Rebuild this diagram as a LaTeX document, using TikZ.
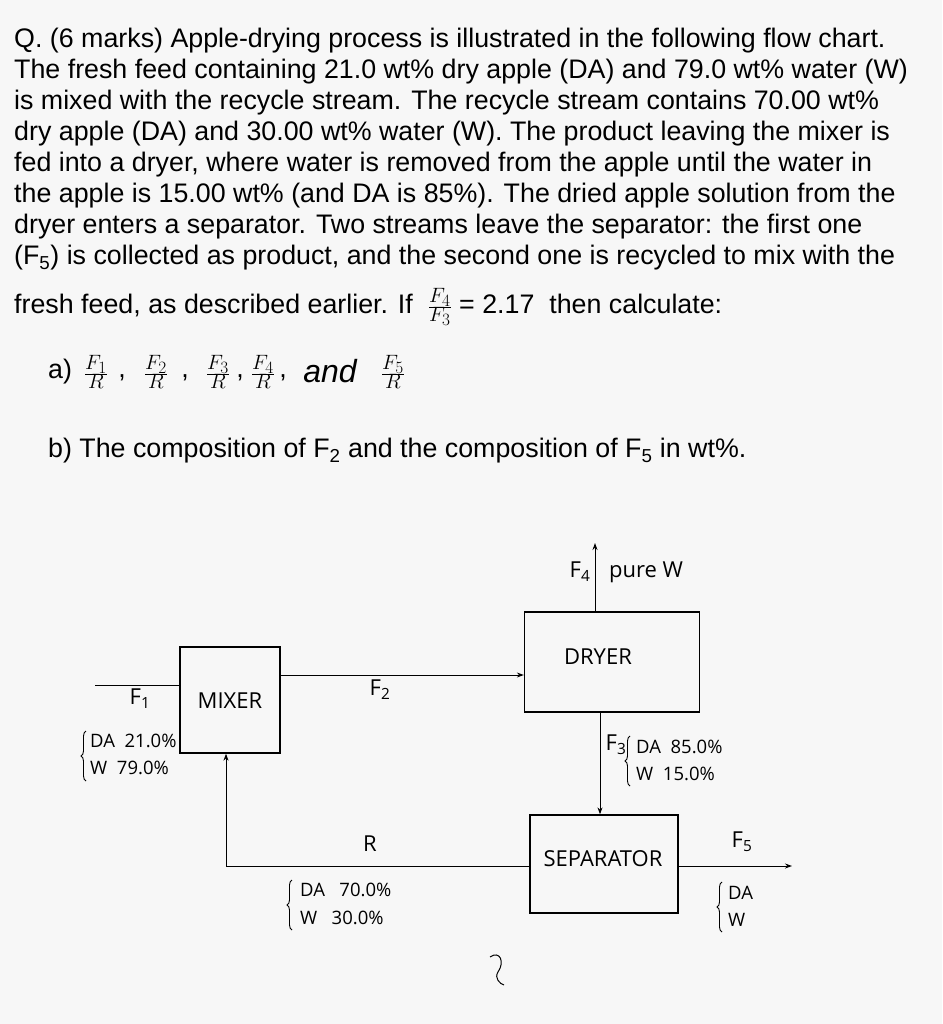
\documentclass[tikz,border=0pt]{standalone}
\usepackage{fontspec}
\setmainfont{Liberation Sans}
\newfontfamily\dfont{Open Sans}
\usetikzlibrary{arrows.meta,decorations.pathreplacing}
\newcommand\myfr[2]{{\fontsize{32}{32}\selectfont$\frac{#1}{#2}$}}
\begin{document}
\begin{tikzpicture}[x=1pt,y=-1pt,
  txt/.style={anchor=west,inner sep=0pt,font=\fontsize{26.8}{30}\selectfont},
  fr/.style={inner sep=0pt,font=\fontsize{26.8}{30}\selectfont},
  lab/.style={inner sep=0pt,font=\dfont\fontsize{22}{26}\selectfont},
  sm/.style={inner sep=0pt,font=\dfont\fontsize{18.5}{21}\selectfont,anchor=west},
  box/.style={draw,line width=1.3pt,inner sep=0pt},
  ln/.style={line width=1pt},
  br/.style={decorate,decoration={brace,amplitude=5pt},line width=0.9pt},
  arr/.style={ln,-{Stealth[length=7pt,width=5pt]}}]
\fill[white!94!gray] (0,0) rectangle (942,1024);
\useasboundingbox (0,0) rectangle (942,1024);
\node[txt] (l1) at (14,41) {Q. (6 marks) Apple-drying process is illustrated in the following flow chart.};
\node[txt] (l2) at (14,72) {The fresh feed containing 21.0 wt\% dry apple (DA) and 79.0 wt\% water (W)};
\node[txt] (l3) at (14,103) {is mixed with the recycle stream. The recycle stream contains 70.00 wt\%};
\node[txt] (l4) at (14,134) {dry apple (DA) and 30.00 wt\% water (W). The product leaving the mixer is};
\node[txt] (l5) at (14,165) {fed into a dryer, where water is removed from the apple until the water in};
\node[txt] (l6) at (14,196) {the apple is 15.00 wt\% (and DA is 85\%). The dried apple solution from the};
\node[txt] (l7) at (14,227) {dryer enters a separator. Two streams leave the separator: the first one};
\node[txt] (l8) at (14,258) {(F\textsubscript{5}) is collected as product, and the second one is recycled to mix with the};
\node[txt] (l9) at (14,307) {fresh feed, as described earlier. If\ \ \myfr{F_4}{F_3} = 2.17\ \ then calculate:};
\node[txt] (la) at (48,372) {a)};
\node[fr] (fa1) at (96,372) {\myfr{F_1}{R}};
\node[fr] (ca1) at (122,378) {,};
\node[fr] (fa2) at (156,372) {\myfr{F_2}{R}};
\node[fr] (ca2) at (185,378) {,};
\node[fr] (fa3) at (218,372) {\myfr{F_3}{R}};
\node[fr] (ca3) at (240,378) {,};
\node[fr] (fa4) at (263,372) {\myfr{F_4}{R}};
\node[fr] (ca4) at (283,378) {,};
\node[fr] (and) at (330,371) {\fontsize{32}{32}\selectfont$\mathit{and}$};
\node[fr] (fa5) at (393,372) {\myfr{F_5}{R}};
\node[txt] (lb) at (48,451) {b) The composition of F\textsubscript{2} and the composition of F\textsubscript{5} in wt\%.};

\node[box,minimum width=100,minimum height=106] (mix) at (230,700) {};
\node[lab] at (230,701) {MIXER};
\node[box,minimum width=175,minimum height=100] (dry) at (612,662) {};
\node[lab] at (598,657) {DRYER};
\node[box,minimum width=148,minimum height=98] (sep) at (604,864) {};
\node[lab] at (603,859) {SEPARATOR};

\coordinate (f1s) at (95,685);
\draw[ln] (f1s) -- (f1s -| mix.west);
\node[lab] at (140,699) {F\textsubscript{1}};
\draw[br] (86,781) -- (86,731);
\node[sm] at (90,741) {DA\ \ 21.0\%};
\node[sm] at (90,768) {W\ \ 79.0\%};

\draw[arr] (mix.east |- 0,675) -- (dry.west |- 0,675);
\node[lab] at (380,690) {F\textsubscript{2}};

\coordinate (f4e) at (595,543);
\draw[arr] (dry.north -| f4e) -- (f4e);
\node[lab] at (580,572) {F\textsubscript{4}};
\node[lab] at (646,572) {pure W};

\draw[arr] (dry.south -| 600,0) -- (sep.north -| 600,0);
\node[lab] at (616,745) {F\textsubscript{3}};
\draw[br] (630,786) -- (630,736);
\node[sm] at (636,747) {DA\ \ 85.0\%};
\node[sm] at (636,774) {W\ \ 15.0\%};

\coordinate (f5e) at (792,866);
\draw[arr] (sep.east |- f5e) -- (f5e);
\node[lab] at (742,842) {F\textsubscript{5}};
\draw[br] (722,932) -- (722,882);
\node[sm] at (728,893) {DA};
\node[sm] at (728,920) {W};

\coordinate (rc) at (226,866);
\draw[arr] (sep.west |- rc) -- (rc) -- (rc |- mix.south);
\node[lab] at (370,844) {R};
\draw[br] (292,930) -- (292,880);
\node[sm] at (300,890) {DA\ \ \ 70.0\%};
\node[sm] at (300,918) {W\ \ \ 30.0\%};

\draw[line width=1pt] (490,957) .. controls (500,950) and (505,962) .. (498,972) .. controls (494,978) and (500,984) .. (504,985);
\end{tikzpicture}
\end{document}
